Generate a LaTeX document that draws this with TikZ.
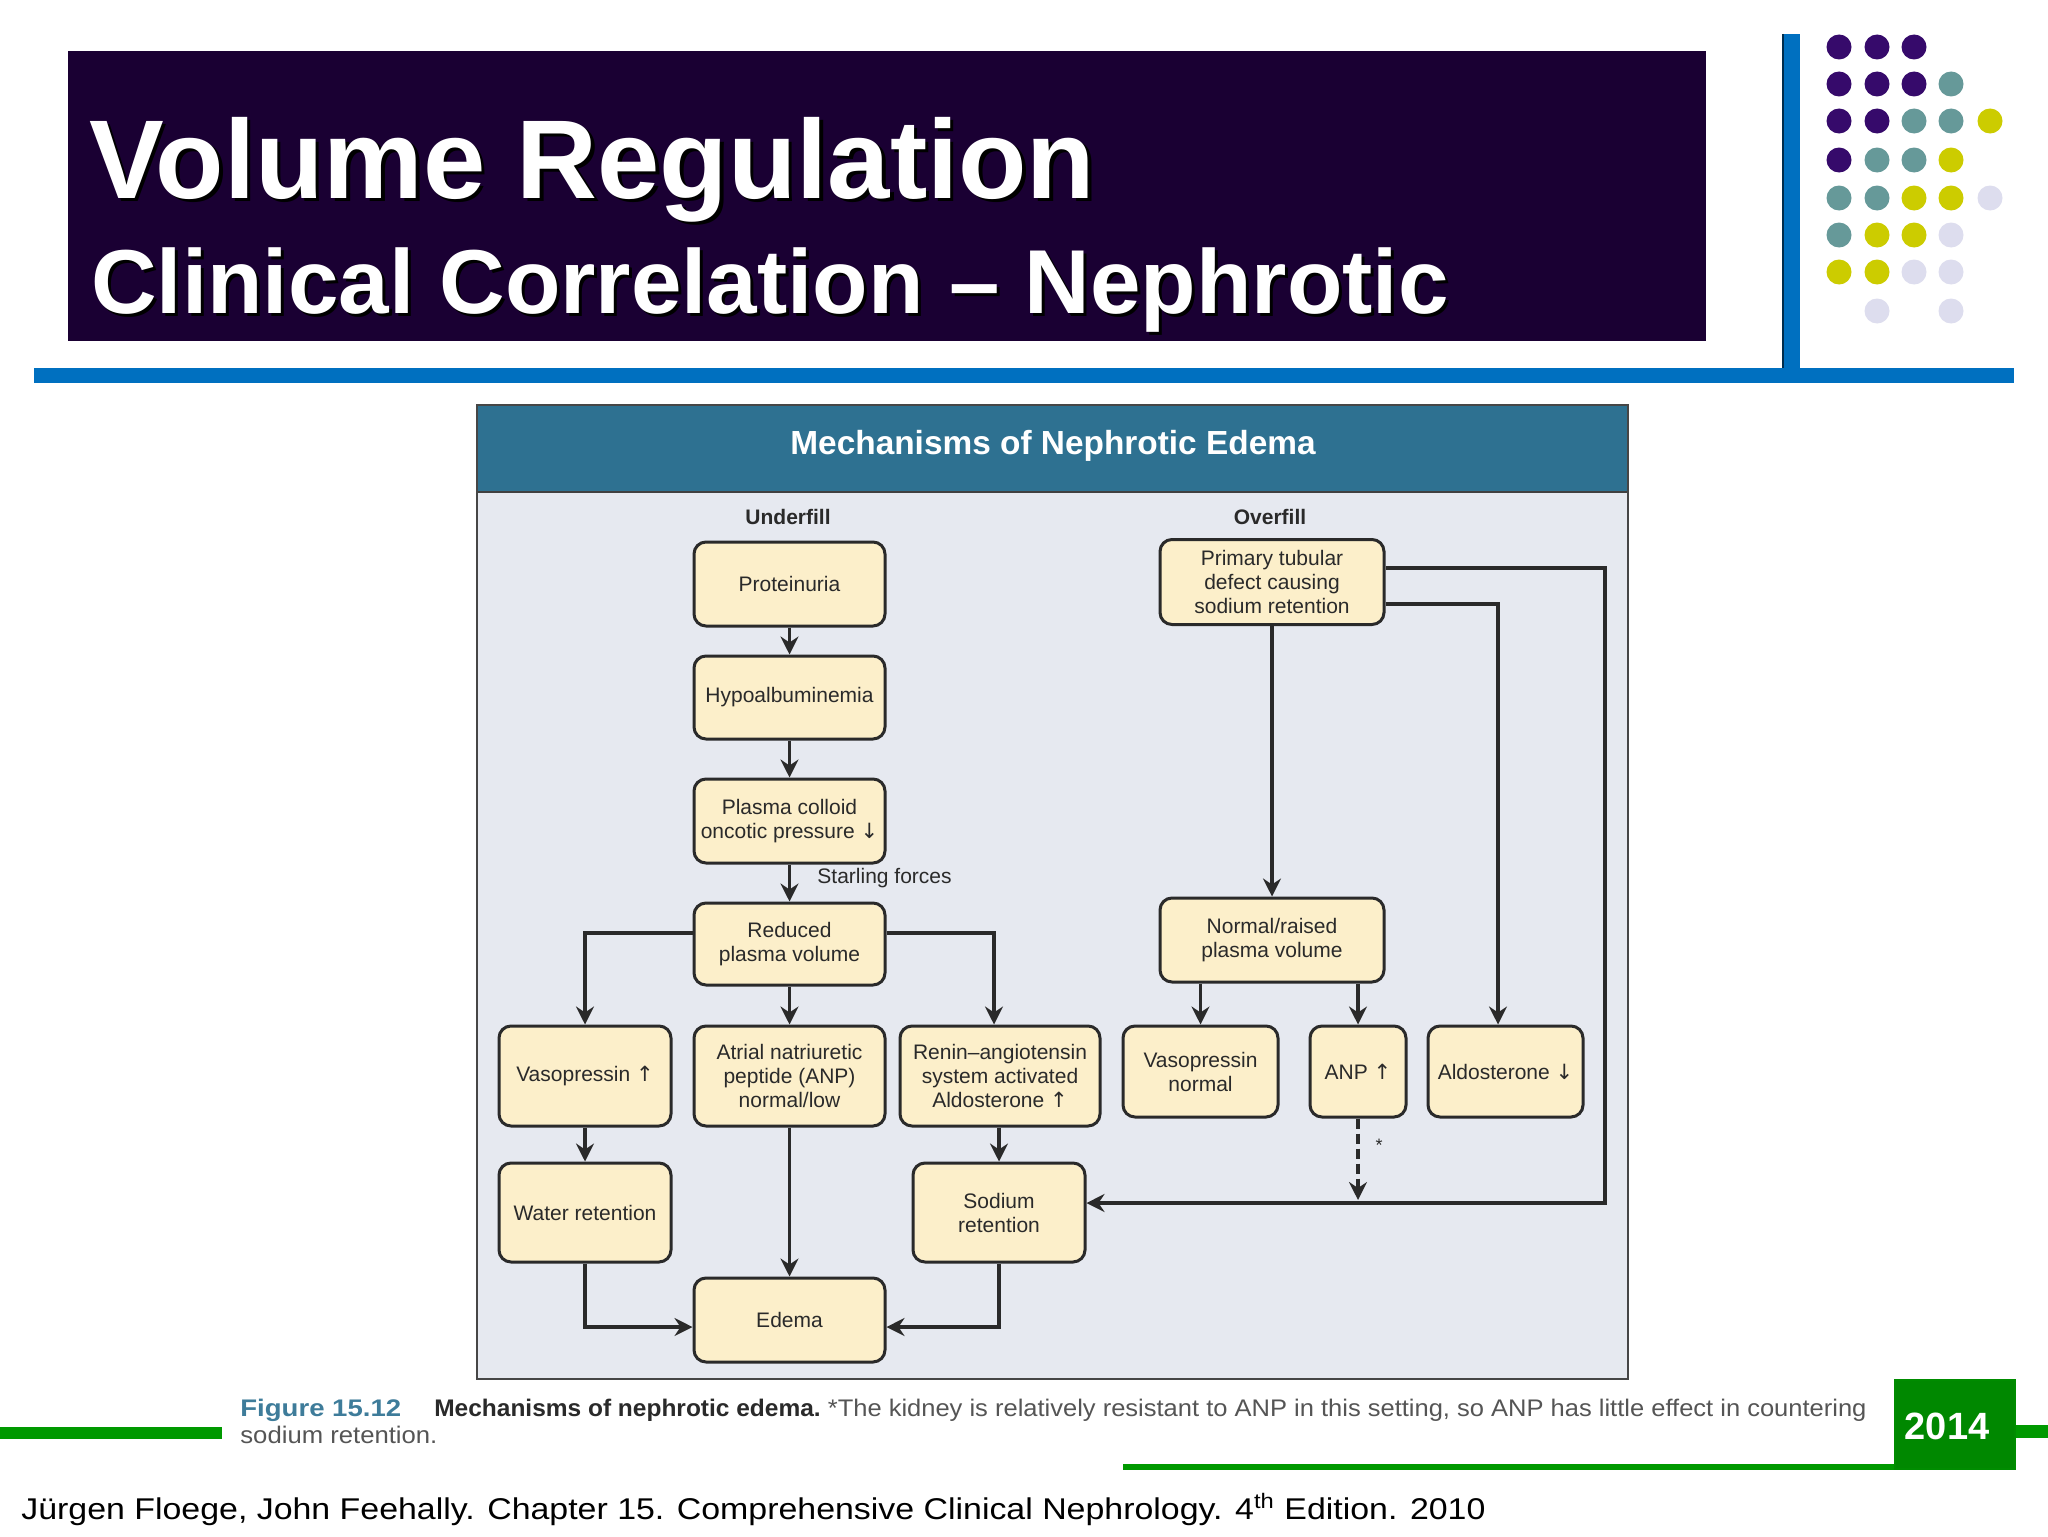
\documentclass[tikz,border=0pt]{standalone}
\usepackage{fontspec}
\setmainfont{Liberation Sans}
\newfontfamily\symfont{DejaVu Sans}
\usetikzlibrary{arrows.meta}
\definecolor{banner}{HTML}{1A0033}
\definecolor{barblue}{HTML}{0070C0}
\definecolor{dotP}{HTML}{360A6B}
\definecolor{dotT}{HTML}{669999}
\definecolor{dotY}{HTML}{CCCC00}
\definecolor{dotL}{HTML}{DDDDEE}
\definecolor{hdr}{HTML}{2E7191}
\definecolor{panelbg}{HTML}{E6E9F0}
\definecolor{boxfill}{HTML}{FCEFCA}
\definecolor{ink}{HTML}{2A2A2A}
\definecolor{capblue}{HTML}{3E7C9A}
\definecolor{capgray}{HTML}{555555}
\definecolor{grnline}{HTML}{009900}
\definecolor{grnbox}{HTML}{008800}
\newcommand{\arU}{{\symfont\char"2191}}
\newcommand{\arD}{{\symfont\char"2193}}
\tikzset{
  fbox/.style={draw=ink, fill=boxfill, rounded corners=6pt, line width=1.5pt,
    align=center, font=\fontsize{10.5}{12}\selectfont, text=ink, inner sep=2pt},
  arr/.style={draw=ink, line width=1.6pt, -{Stealth[length=9pt,width=9pt,inset=3pt]}},
  lbl/.style={font=\bfseries\fontsize{10.5}{12}\selectfont, text=ink, inner sep=0pt},
}
\begin{document}
\begin{tikzpicture}[x=0.5pt,y=-0.5pt]
\useasboundingbox (0,0) rectangle (2048,1536);
\fill[white] (0,0) rectangle (2048,1536);
% banner
\fill[banner] (68,51) rectangle (1706,341);
\node[anchor=base west, inner sep=0, font=\bfseries\fontsize{56}{60}\selectfont, text=black] (t1s) at (92.5,201.5) {Volume Regulation};
\node[anchor=base west, inner sep=0, font=\bfseries\fontsize{56}{60}\selectfont, text=white] (t1) at (89,198) {Volume Regulation};
\node[anchor=base west, inner sep=0, font=\bfseries\fontsize{45.4}{50}\selectfont, text=black] (t2s) at (94,316) {Clinical Correlation -- Nephrotic};
\node[anchor=base west, inner sep=0, font=\bfseries\fontsize{45.4}{50}\selectfont, text=white] (t2) at (91,313) {Clinical Correlation -- Nephrotic};
% blue bars
\fill[barblue] (34,368) rectangle (2014,383);
\fill[barblue] (1783,34) rectangle (1800,383);
\draw[black!60!barblue, line width=0.6pt] (1783,34) -- (1783,368);
% dots
\foreach \c/\x/\y in {
  dotP/1839/47, dotP/1877/47, dotP/1914/47,
  dotP/1839/84, dotP/1877/84, dotP/1914/84, dotT/1951/84,
  dotP/1839/121, dotP/1877/121, dotT/1914/121, dotT/1951/121, dotY/1990/121,
  dotP/1839/160, dotT/1877/160, dotT/1914/160, dotY/1951/160,
  dotT/1839/198, dotT/1877/198, dotY/1914/198, dotY/1951/198, dotL/1990/198,
  dotT/1839/235, dotY/1877/235, dotY/1914/235, dotL/1951/235,
  dotY/1839/272, dotY/1877/272, dotL/1914/272, dotL/1951/272,
  dotL/1877/311, dotL/1951/311}
  \fill[\c] (\x,\y) circle (6.25pt);
% panel
\fill[panelbg] (477,405) rectangle (1628,1379);
\fill[hdr] (477,405) rectangle (1628,492);
\draw[black!75, line width=1pt] (477,492) -- (1628,492);
\draw[gray!55!black, line width=1.2pt] (477,405) rectangle (1628,1379);
\node[font=\bfseries\fontsize{16.7}{20}\selectfont, text=white] (htitle) at (1053,446) {Mechanisms of Nephrotic Edema};
\node[lbl] (under) at (788,517) {Underfill};
\node[lbl] (over) at (1270,517) {Overfill};
% boxes
\node[fbox, minimum width=95.5pt, minimum height=42pt] (prot) at (789.5,584) {Proteinuria};
\node[fbox, minimum width=95.5pt, minimum height=41.5pt] (hypo) at (789.5,697.5) {Hypoalbuminemia};
\node[fbox, minimum width=95.5pt, minimum height=42pt] (plasma) at (789.5,821) {Plasma colloid\\oncotic pressure \arD};
\node[fbox, minimum width=95.5pt, minimum height=41pt] (reduced) at (789.5,944) {Reduced\\plasma volume};
\node[fbox, minimum width=86pt, minimum height=50pt] (vasoup) at (585,1076) {Vasopressin \arU};
\node[fbox, minimum width=95.5pt, minimum height=50pt] (anpmid) at (789.5,1076) {Atrial natriuretic\\peptide (ANP)\\normal/low};
\node[fbox, minimum width=100pt, minimum height=50pt] (renin) at (1000,1076) {Renin--angiotensin\\system activated\\Aldosterone \arU};
\node[fbox, minimum width=86pt, minimum height=49.5pt] (water) at (585,1212.5) {Water retention};
\node[fbox, minimum width=86pt, minimum height=49.5pt] (sodium) at (999,1212.5) {Sodium\\retention};
\node[fbox, minimum width=95.5pt, minimum height=42pt] (edema) at (789.5,1320) {Edema};
\node[fbox, minimum width=112pt, minimum height=42.5pt] (prim) at (1272,582) {Primary tubular\\defect causing\\sodium retention};
\node[fbox, minimum width=112pt, minimum height=42pt] (normal) at (1272,940) {Normal/raised\\plasma volume};
\node[fbox, minimum width=77.5pt, minimum height=45.5pt] (vasonorm) at (1200.5,1071.5) {Vasopressin\\normal};
\node[fbox, minimum width=48pt, minimum height=45.5pt] (anpup) at (1358,1071.5) {ANP \arU};
\node[fbox, minimum width=77.5pt, minimum height=45.5pt] (aldo) at (1505.5,1071.5) {Aldosterone \arD};
\node[anchor=west, inner sep=0pt, font=\fontsize{10.5}{12}\selectfont, text=ink] (starl) at (817,878) {Starling forces};
\node[inner sep=0pt, font=\fontsize{9}{10}\selectfont, text=ink] (star) at (1379,1145) {*};
% connectors
\draw[arr] (prot) -- (hypo);
\draw[arr] (hypo) -- (plasma);
\draw[arr] (plasma) -- (reduced);
\draw[arr] (reduced.west |- 0,933) -| (vasoup.north);
\draw[arr] (reduced) -- (anpmid);
\draw[arr] (reduced.east |- 0,933) -| ([xshift=-3pt]renin.north);
\draw[arr] (vasoup) -- (water);
\draw[arr] (sodium.north |- renin.south) -- (sodium.north);
\draw[arr] (anpmid) -- (edema);
\draw[arr] (water.south) |- ([yshift=-3.5pt]edema.west);
\draw[arr] (sodium.south) |- ([yshift=-3.5pt]edema.east);
\draw[arr] (prim) -- (normal);
\coordinate (corner) at (1605,1203);
\draw[arr] (prim.east |- 0,568) -| (corner) -- (sodium.east |- corner);
\draw[arr] (prim.east |- 0,604) -| ([xshift=-3.75pt]aldo.north);
\draw[arr] (vasonorm.north |- normal.south) -- (vasonorm.north);
\draw[arr] (anpup.north |- normal.south) -- (anpup.north);
\coordinate (dashend) at (1358,1200);
\draw[arr, dash pattern=on 5pt off 2.5pt] (anpup.south) -- (anpup.south |- dashend);
% caption
\node[anchor=base west, inner sep=0pt] (cap1) at (240,1416) {\resizebox{813pt}{\height}{\fontsize{12}{14}\selectfont\scalebox{1.08}[1]{\textcolor{capblue}{\bfseries Figure 15.12}}\hspace{1.3em}\scalebox{0.96}[1]{\textcolor{ink}{\bfseries Mechanisms of nephrotic edema.}} \textcolor{capgray}{*The kidney is relatively resistant to ANP in this setting, so ANP has little effect in countering}}};
\node[anchor=base west, inner sep=0pt] (cap2) at (240,1443) {\scalebox{1.07}[1]{\fontsize{12}{14}\selectfont\textcolor{capgray}{sodium retention.}}};
% green decorations
\fill[grnline] (0,1427) rectangle (222,1439);
\fill[grnline] (1123,1464) rectangle (1895,1470);
\fill[grnline] (2016,1425) rectangle (2048,1438);
\fill[grnbox] (1894,1379) rectangle (2016,1470);
\draw[green!55!black, line width=1pt] (1895,1380) rectangle (2015,1469);
\node[font=\bfseries\fontsize{19}{22}\selectfont, text=white] (year) at (1947,1426) {2014};
% reference
\node[anchor=base west, inner sep=0pt] (ref) at (21,1519) {\resizebox{732pt}{\height}{\fontsize{15}{18}\selectfont Jürgen Floege, John Feehally. Chapter 15. Comprehensive Clinical Nephrology. 4\textsuperscript{th} Edition. 2010}};
\end{tikzpicture}
\end{document}
